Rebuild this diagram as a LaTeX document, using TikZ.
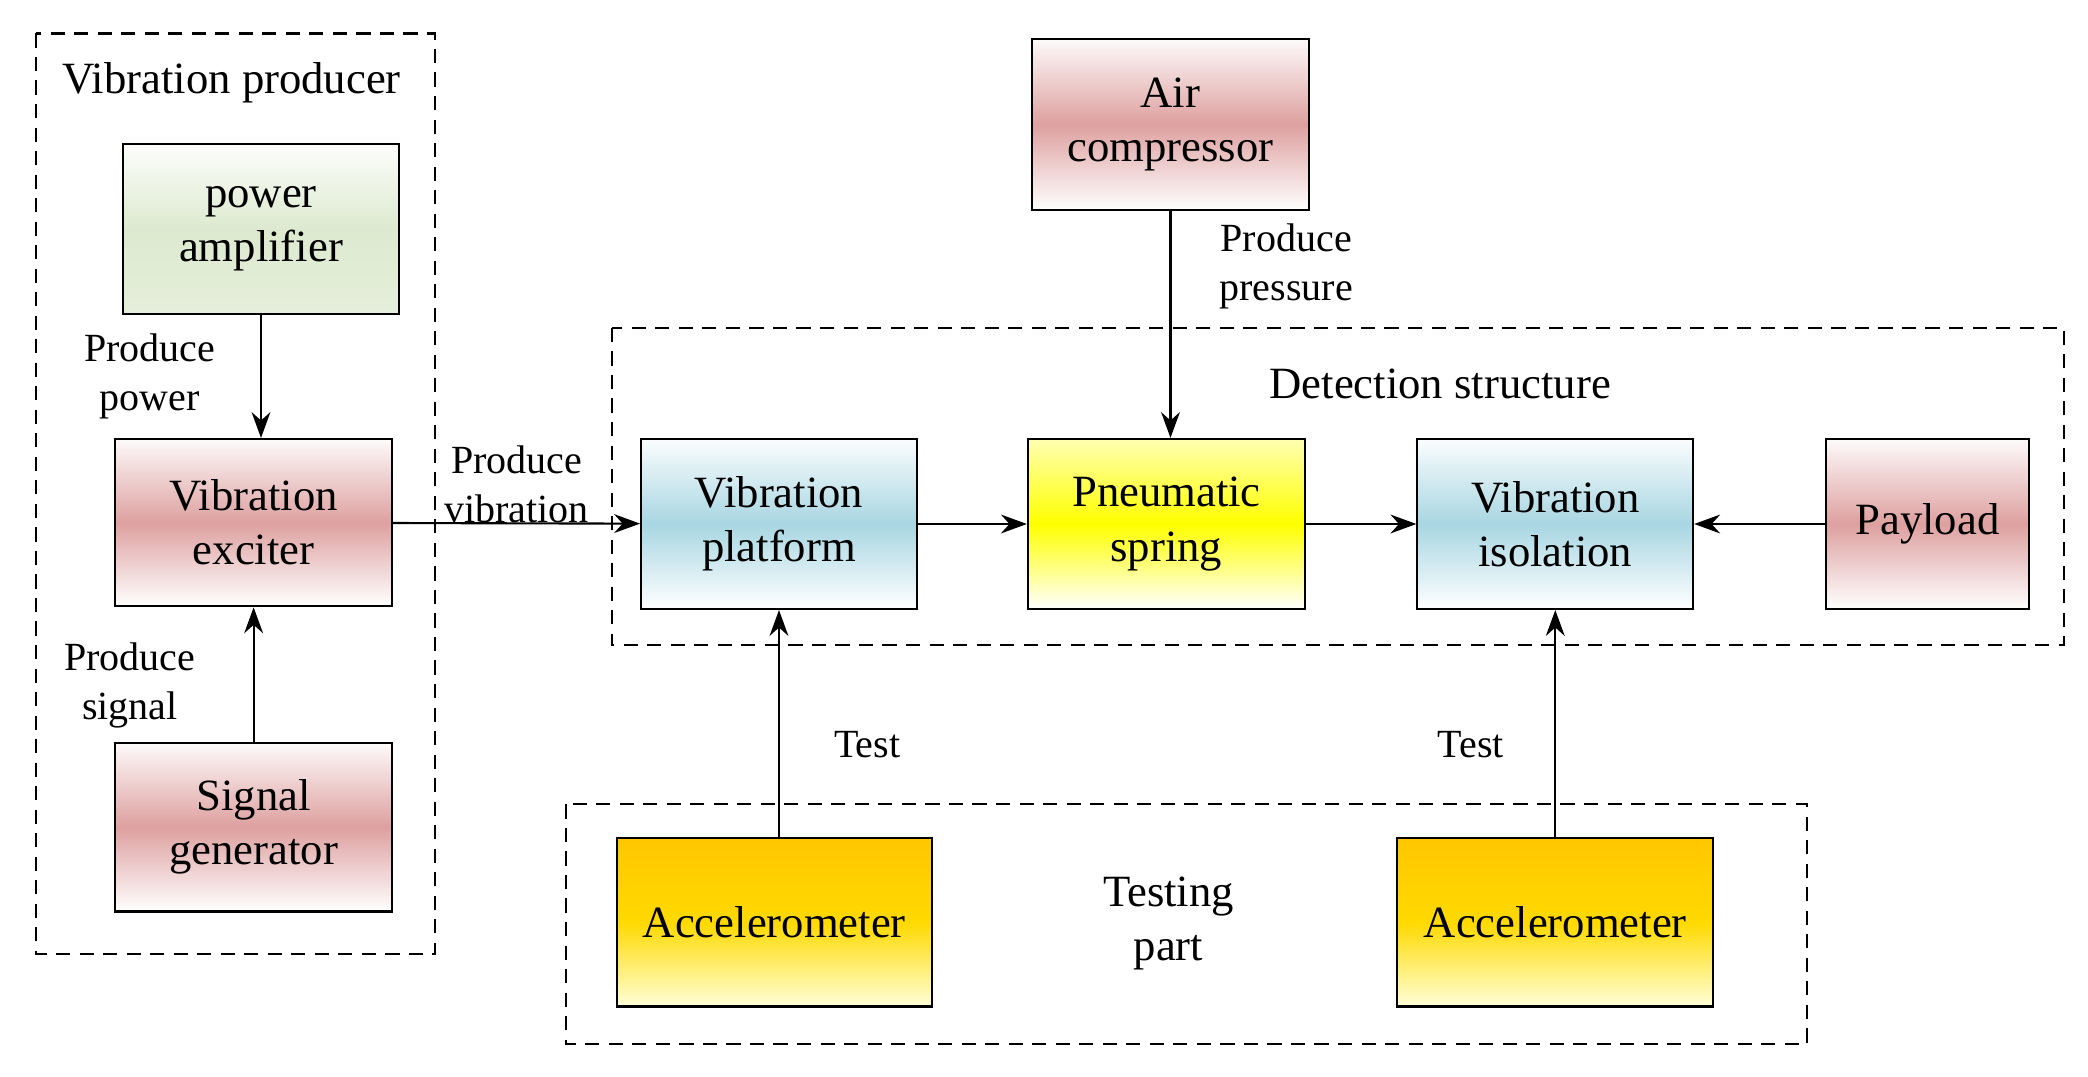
\documentclass[tikz,border=0pt]{standalone}
\usepackage{fontspec}
\setmainfont{Liberation Serif}
\usetikzlibrary{arrows.meta}
\definecolor{redm}{RGB}{222,160,160}
\definecolor{grnm}{RGB}{212,228,195}
\definecolor{blum}{RGB}{168,214,226}
\definecolor{yelm}{RGB}{255,255,0}
\definecolor{orm}{RGB}{255,192,0}
\begin{document}
\begin{tikzpicture}[x=0.2mm,y=-0.2mm,
  font=\fontsize{19}{23}\selectfont,
  box/.style={draw,line width=0.9pt,align=center,inner sep=0pt},
  red/.style={box,top color=white!95!redm,bottom color=white,middle color=redm},
  grn/.style={box,top color=white!95!grnm,bottom color=grnm!60,middle color=grnm!80},
  blu/.style={box,top color=white!95!blum,bottom color=white,middle color=blum},
  yel/.style={box,top color=white!70!yelm,bottom color=white,middle color=yelm},
  org/.style={box,top color=orm!90!yellow,bottom color=white!85!yellow,middle color=orm!60!yellow},
  dbox/.style={draw,dash pattern=on 6pt off 4pt,line width=0.9pt},
  arr/.style={-{Stealth[length=11pt,width=8pt]},line width=0.9pt},
  lbl/.style={align=center,font=\fontsize{17}{21}\selectfont}]
\useasboundingbox (0,0) rectangle (1560,804);
\draw[dbox] (27,25) rectangle (325,713);
\draw[dbox] (457,245) rectangle (1542,482);
\draw[dbox] (423,601) rectangle (1350,780);
\node[grn,minimum width=41.2mm,minimum height=25.4mm] (pa) at (195,171) {power\\amplifier};
\node[red,minimum width=41.4mm,minimum height=25mm] (ve) at (189.5,390.5) {Vibration\\exciter};
\node[red,minimum width=41.4mm,minimum height=25.2mm] (sg) at (189.5,618) {Signal\\generator};
\node[red,minimum width=41.4mm,minimum height=25.6mm] (ac) at (874.5,93) {Air\\compressor};
\node[blu,minimum width=41.2mm,minimum height=25.4mm] (vp) at (582,391.5) {Vibration\\platform};
\node[yel,minimum width=41.4mm,minimum height=25.4mm] (ps) at (871.5,391.5) {Pneumatic\\spring};
\node[blu,minimum width=41.2mm,minimum height=25.4mm] (vi) at (1162,391.5) {Vibration\\isolation};
\node[red,minimum width=30.4mm,minimum height=25.4mm] (pl) at (1440,391.5) {Payload};
\node[org,minimum width=47mm,minimum height=25.2mm] (a1) at (578.5,689) {Accelerometer};
\node[org,minimum width=47.2mm,minimum height=25.2mm] (a2) at (1162,689) {Accelerometer};
\node (t1) at (173,62) {Vibration producer};
\node (t2) at (1076,287) {Detection structure};
\node[align=center] (t3) at (873,690) {Testing\\part};
\draw[arr] (pa.south) -- (pa.south|-ve.north);
\draw[arr] (sg) -- (ve);
\draw[arr] (ve) -- (vp);
\draw[arr] (vp) -- (ps);
\draw[arr] (ps) -- (vi);
\draw[arr] (pl) -- (vi);
\draw[arr] (ac.south) -- (ac.south|-ps.north);
\draw[arr] (a1.north-|vp) -- (vp);
\draw[arr] (a2.north-|vi) -- (vi);
\node[lbl] (l1) at (112,281) {Produce\\power};
\node[lbl] (l2) at (97,512) {Produce\\signal};
\node[lbl] (l3) at (386,362) {Produce\\vibration};
\node[lbl] (l4) at (961,199) {Produce\\pressure};
\node[lbl] (l5) at (648,556) {Test};
\node[lbl] (l6) at (1099,556) {Test};
\end{tikzpicture}
\end{document}
